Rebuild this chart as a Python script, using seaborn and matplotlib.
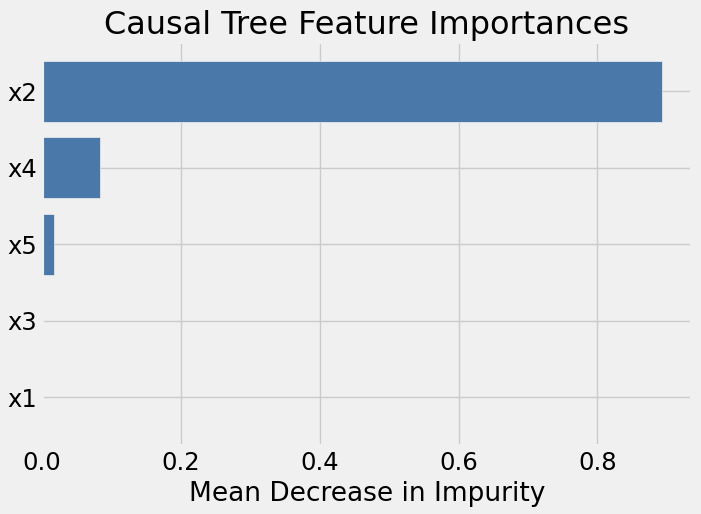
import numpy as np
import pandas as pd
import seaborn as sns
import matplotlib
matplotlib.use("Agg")
import matplotlib.pyplot as plt

# feature importances
features = ["x2", "x4", "x5", "x3", "x1"]
importances = [0.8935, 0.0835, 0.017, 0.0, 0.0]

df = pd.DataFrame({"feature": features, "importance": importances})

plt.style.use("fivethirtyeight")
fig, ax = plt.subplots(figsize=(7.01, 5.14), dpi=100)
sns.barplot(data=df, x="importance", y="feature", order=features,
            color="#4a78a8", saturation=1, width=0.8,
            edgecolor="#f0f0f0", linewidth=0.5, ax=ax)
ax.grid(True, axis="both")
ax.set_axisbelow(True)
ax.set_xlim(0, 0.936)
ax.set_ylim(4.64, -0.64)
ax.set_ylabel("")
ax.set_xlabel("Mean Decrease in Impurity", fontsize=19)
ax.set_title("Causal Tree Feature Importances", fontsize=23)
ax.tick_params(axis="both", labelsize=17.5)
fig.subplots_adjust(left=0.06, right=0.987, top=0.918, bottom=0.132)
fig.savefig("out.png", dpi=100)
